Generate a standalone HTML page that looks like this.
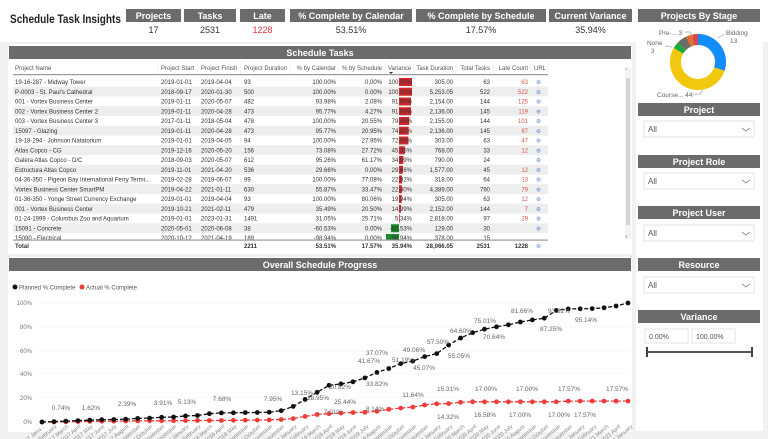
<!DOCTYPE html>
<html><head><meta charset="utf-8"><style>
html,body{margin:0;padding:0;background:#f1f1f1;}
svg{display:block;font-family:"Liberation Sans",sans-serif;}
</style></head><body>
<svg width="768" height="439" viewBox="0 0 768 439" xmlns="http://www.w3.org/2000/svg">
<rect width="768" height="439" fill="#f1f1f1"/>
<rect x="0" y="0" width="768" height="42" fill="#ffffff"/>
<text x="10" y="23" font-size="11.5" font-weight="bold" fill="#222" textLength="111" lengthAdjust="spacingAndGlyphs">Schedule Task Insights</text>
<g font-size="9" text-anchor="middle">
<rect x="126" y="9" width="55" height="13" fill="#6b6b6b"/><text x="153.5" y="19" fill="#fff" font-weight="bold">Projects</text><text x="153.5" y="33" fill="#333">17</text>
<rect x="184" y="9" width="52" height="13" fill="#6b6b6b"/><text x="210" y="19" fill="#fff" font-weight="bold">Tasks</text><text x="210" y="33" fill="#333">2531</text>
<rect x="240" y="9" width="45" height="13" fill="#6b6b6b"/><text x="262.5" y="19" fill="#fff" font-weight="bold">Late</text><text x="262.5" y="33" fill="#d9363e">1228</text>
<rect x="290" y="9" width="122" height="13" fill="#6b6b6b"/><text x="351" y="19" fill="#fff" font-weight="bold">% Complete by Calendar</text><text x="351" y="33" fill="#333">53.51%</text>
<rect x="416" y="9" width="130" height="13" fill="#6b6b6b"/><text x="481" y="19" fill="#fff" font-weight="bold">% Complete by Schedule</text><text x="481" y="33" fill="#333">17.57%</text>
<rect x="549" y="9" width="83" height="13" fill="#6b6b6b"/><text x="590.5" y="19" fill="#fff" font-weight="bold">Current Variance</text><text x="590.5" y="33" fill="#333">35.94%</text>
</g>

<rect x="636" y="8" width="127" height="423" fill="#fff"/>
<g font-size="9" font-weight="bold" fill="#fff" text-anchor="middle">
<rect x="638" y="9" width="122" height="13" fill="#6b6b6b"/><text x="699" y="19">Projects By Stage</text>
<rect x="638" y="103" width="122" height="13" fill="#6b6b6b"/><text x="699" y="113">Project</text>
<rect x="638" y="155" width="122" height="13" fill="#6b6b6b"/><text x="699" y="165">Project Role</text>
<rect x="638" y="206" width="122" height="13" fill="#6b6b6b"/><text x="699" y="216">Project User</text>
<rect x="638" y="258" width="122" height="13" fill="#6b6b6b"/><text x="699" y="268">Resource</text>
<rect x="638" y="310" width="122" height="13" fill="#6b6b6b"/><text x="699" y="320">Variance</text>
</g>
<g transform="translate(698,62)" fill="none" stroke-width="11">
<circle r="22.5" stroke="#f2c80f"/>
<path d="M0,-22.5 A22.5,22.5 0 0 1 21.4,7" stroke="#118dff"/>
<path d="M-19.5,-11.2 A22.5,22.5 0 0 1 -15.9,-15.9" stroke="#1aab40"/>
<path d="M-15.9,-15.9 A22.5,22.5 0 0 1 -9.5,-20.4" stroke="#6b6b6b"/>
<path d="M-9.5,-20.4 A22.5,22.5 0 0 1 -4.7,-22" stroke="#e66c37"/>
<path d="M-4.7,-22 A22.5,22.5 0 0 1 0,-22.5" stroke="#d64550"/>
</g>
<g font-size="6.5" fill="#666">
<text x="659" y="35">Pre-... 3</text>
<text x="647" y="45">None</text><text x="651" y="53">3</text>
<text x="726" y="35">Bidding</text><text x="730" y="43">13</text>
<text x="657" y="97">Course... 44</text>
</g>
<g stroke="#aaa" stroke-width="0.7" fill="none">
<path d="M685,32 L690,32 L693,36"/><path d="M665,46 L672,47"/><path d="M718,38 L724,34"/><path d="M692,94 L700,94 L703,90"/>
</g>
<g font-size="8" fill="#555">
<rect x="644" y="121" width="110" height="16" fill="#fff" stroke="#e3e3e3"/><text x="648" y="132">All</text>
<rect x="644" y="173" width="110" height="16" fill="#fff" stroke="#e3e3e3"/><text x="648" y="184">All</text>
<rect x="644" y="225" width="110" height="16" fill="#fff" stroke="#e3e3e3"/><text x="648" y="236">All</text>
<rect x="644" y="277" width="110" height="16" fill="#fff" stroke="#e3e3e3"/><text x="648" y="288">All</text>
<rect x="645" y="329" width="43" height="14" fill="#fff" stroke="#e3e3e3"/><text x="649" y="339" font-size="7">0.00%</text>
<rect x="692" y="329" width="43" height="14" fill="#fff" stroke="#e3e3e3"/><text x="696" y="339" font-size="7">100.00%</text>
</g>
<g stroke="#888" stroke-width="0.8" fill="none">
<path d="M742,128 l4,3 l4,-3"/><path d="M742,180 l4,3 l4,-3"/><path d="M742,232 l4,3 l4,-3"/><path d="M742,284 l4,3 l4,-3"/>
</g>
<rect x="647" y="351" width="105" height="2" fill="#555"/>
<rect x="646" y="347" width="2" height="10" fill="#444"/><rect x="751" y="347" width="2" height="10" fill="#444"/>

<rect x="8" y="44" width="624" height="210" fill="#fff"/>
<rect x="9" y="46" width="622" height="13" fill="#6b6b6b"/>
<text x="320" y="56" font-size="9" font-weight="bold" fill="#fff" text-anchor="middle">Schedule Tasks</text>
<g font-size="6" fill="#555">
<text x="15" y="70">Project Name</text><text x="161" y="70">Project Start</text><text x="201" y="70">Project Finish</text><text x="244" y="70">Project Duration</text>
<text x="336" y="70" text-anchor="end">% by Calendar</text><text x="382" y="70" text-anchor="end">% by Schedule</text><text x="388" y="70">Variance</text>
<text x="453" y="70" text-anchor="end">Task Duration</text><text x="490" y="70" text-anchor="end">Total Tasks</text><text x="528" y="70" text-anchor="end">Late Count</text><text x="534" y="70">URL</text>
</g>
<path d="M389,72 l2,2 l2,-2z" fill="#333"/>
<g stroke="#e2e2e2" stroke-width="0.6"><path d="M158,62V74M198,62V74M241,62V74M290,62V74M338,62V74M385,62V74M414,62V74M456,62V74M493,62V74M530,62V74M548,62V74"/></g>
<rect x="13" y="74" width="535" height="1.2" fill="#999"/>
<defs><clipPath id="tc"><rect x="10" y="75.5" width="540" height="164"/></clipPath></defs>
<g clip-path="url(#tc)">
<g fill="#eeeeee">
<rect x="13" y="86.75" width="535" height="9.75"/><rect x="13" y="106.25" width="535" height="9.75"/><rect x="13" y="125.75" width="535" height="9.75"/><rect x="13" y="145.25" width="535" height="9.75"/><rect x="13" y="164.75" width="535" height="9.75"/><rect x="13" y="184.25" width="535" height="9.75"/><rect x="13" y="203.75" width="535" height="9.75"/><rect x="13" y="223.25" width="535" height="9.75"/>
</g>
<g fill="#d0282e">
<rect x="399" y="78" width="13" height="8"/><rect x="399" y="87.75" width="13" height="8"/><rect x="399" y="97.5" width="12" height="8"/><rect x="399" y="107.25" width="12" height="8"/><rect x="399" y="117" width="10.3" height="8"/><rect x="399" y="126.75" width="9.7" height="8"/><rect x="399" y="136.5" width="9.4" height="8"/><rect x="399" y="146.25" width="5.9" height="8"/><rect x="399" y="156" width="4.4" height="8"/><rect x="399" y="165.75" width="3.9" height="8"/><rect x="399" y="175.5" width="3" height="8"/><rect x="399" y="185.25" width="2.9" height="8"/><rect x="399" y="195" width="2.6" height="8"/><rect x="399" y="204.75" width="1.9" height="8"/><rect x="399" y="214.5" width="0.8" height="8"/>
</g>
<g fill="#1a8a2e"><rect x="391" y="224.25" width="8" height="8"/><rect x="386" y="234" width="13" height="8"/></g>
<g font-size="6" fill="#333">
<text x="15" y="84">19-16-287 - Midway Tower</text><text x="15" y="93.75">P-0003 - St. Paul's Cathedral</text><text x="15" y="103.5">001 - Vortex Business Center</text><text x="15" y="113.25">002 - Vortex Business Center 2</text><text x="15" y="123">003 - Vortex Business Center 3</text><text x="15" y="132.75">15097 - Glazing</text><text x="15" y="142.5">19-18-294 - Johnson Natatorium</text><text x="15" y="152.25">Atlas Copco - CG</text><text x="15" y="162">Galera Atlas Copco - D/C</text><text x="15" y="171.75">Estructura Atlas Copco</text><text x="15" y="181.5">04-36-350 - Pigeon Bay International Ferry Termi...</text><text x="15" y="191.25">Vortex Business Center SmartPM</text><text x="15" y="201">01-36-350 - Yonge Street Currency Exchange</text><text x="15" y="210.75">001 - Vortex Business Center</text><text x="15" y="220.5">01-24-1999 - Columbus Zoo and Aquarium</text><text x="15" y="230.25">15091 - Concrete</text><text x="15" y="240">15090 - Electrical</text>
<text x="161" y="84">2019-01-01</text><text x="161" y="93.75">2018-09-17</text><text x="161" y="103.5">2019-01-11</text><text x="161" y="113.25">2019-01-11</text><text x="161" y="123">2017-01-11</text><text x="161" y="132.75">2019-01-11</text><text x="161" y="142.5">2019-01-01</text><text x="161" y="152.25">2019-12-16</text><text x="161" y="162">2018-09-03</text><text x="161" y="171.75">2019-11-01</text><text x="161" y="181.5">2019-02-28</text><text x="161" y="191.25">2019-04-22</text><text x="161" y="201">2019-01-01</text><text x="161" y="210.75">2019-10-21</text><text x="161" y="220.5">2019-01-01</text><text x="161" y="230.25">2020-05-01</text><text x="161" y="240">2020-10-12</text>
<text x="201" y="84">2019-04-04</text><text x="201" y="93.75">2020-01-30</text><text x="201" y="103.5">2020-05-07</text><text x="201" y="113.25">2020-04-28</text><text x="201" y="123">2018-05-04</text><text x="201" y="132.75">2020-04-28</text><text x="201" y="142.5">2019-04-05</text><text x="201" y="152.25">2020-05-20</text><text x="201" y="162">2020-05-07</text><text x="201" y="171.75">2021-04-20</text><text x="201" y="181.5">2019-06-07</text><text x="201" y="191.25">2021-01-11</text><text x="201" y="201">2019-04-04</text><text x="201" y="210.75">2021-02-11</text><text x="201" y="220.5">2023-01-31</text><text x="201" y="230.25">2020-06-08</text><text x="201" y="240">2021-04-19</text>
<text x="244" y="84">93</text><text x="244" y="93.75">500</text><text x="244" y="103.5">482</text><text x="244" y="113.25">473</text><text x="244" y="123">478</text><text x="244" y="132.75">473</text><text x="244" y="142.5">94</text><text x="244" y="152.25">156</text><text x="244" y="162">612</text><text x="244" y="171.75">536</text><text x="244" y="181.5">99</text><text x="244" y="191.25">630</text><text x="244" y="201">93</text><text x="244" y="210.75">479</text><text x="244" y="220.5">1491</text><text x="244" y="230.25">38</text><text x="244" y="240">189</text>
<g text-anchor="end">
<text x="336" y="84">100.00%</text><text x="336" y="93.75">100.00%</text><text x="336" y="103.5">93.98%</text><text x="336" y="113.25">95.77%</text><text x="336" y="123">100.00%</text><text x="336" y="132.75">95.77%</text><text x="336" y="142.5">100.00%</text><text x="336" y="152.25">73.08%</text><text x="336" y="162">95.26%</text><text x="336" y="171.75">29.66%</text><text x="336" y="181.5">100.00%</text><text x="336" y="191.25">55.87%</text><text x="336" y="201">100.00%</text><text x="336" y="210.75">35.49%</text><text x="336" y="220.5">31.05%</text><text x="336" y="230.25">-60.53%</text><text x="336" y="240">-98.94%</text>
<text x="382" y="84">0.00%</text><text x="382" y="93.75">0.00%</text><text x="382" y="103.5">2.08%</text><text x="382" y="113.25">4.27%</text><text x="382" y="123">20.55%</text><text x="382" y="132.75">20.95%</text><text x="382" y="142.5">27.95%</text><text x="382" y="152.25">27.72%</text><text x="382" y="162">61.17%</text><text x="382" y="171.75">0.00%</text><text x="382" y="181.5">77.08%</text><text x="382" y="191.25">33.47%</text><text x="382" y="201">80.06%</text><text x="382" y="210.75">20.50%</text><text x="382" y="220.5">25.71%</text><text x="382" y="230.25">0.00%</text><text x="382" y="240">0.00%</text>
<text x="412" y="84">100.00%</text><text x="412" y="93.75">100.00%</text><text x="412" y="103.5">91.90%</text><text x="412" y="113.25">91.50%</text><text x="412" y="123">79.45%</text><text x="412" y="132.75">74.82%</text><text x="412" y="142.5">72.05%</text><text x="412" y="152.25">45.36%</text><text x="412" y="162">34.09%</text><text x="412" y="171.75">29.66%</text><text x="412" y="181.5">22.92%</text><text x="412" y="191.25">22.40%</text><text x="412" y="201">19.94%</text><text x="412" y="210.75">14.99%</text><text x="412" y="220.5">5.34%</text><text x="412" y="230.25">-60.53%</text><text x="412" y="240">-98.94%</text>
<text x="453" y="84">305.00</text><text x="453" y="93.75">5,253.05</text><text x="453" y="103.5">2,154.00</text><text x="453" y="113.25">2,136.00</text><text x="453" y="123">2,155.00</text><text x="453" y="132.75">2,136.00</text><text x="453" y="142.5">303.00</text><text x="453" y="152.25">768.00</text><text x="453" y="162">790.00</text><text x="453" y="171.75">1,577.00</text><text x="453" y="181.5">318.00</text><text x="453" y="191.25">4,389.00</text><text x="453" y="201">305.00</text><text x="453" y="210.75">2,152.00</text><text x="453" y="220.5">2,818.00</text><text x="453" y="230.25">129.00</text><text x="453" y="240">378.00</text>
<text x="490" y="84">63</text><text x="490" y="93.75">522</text><text x="490" y="103.5">144</text><text x="490" y="113.25">145</text><text x="490" y="123">144</text><text x="490" y="132.75">145</text><text x="490" y="142.5">63</text><text x="490" y="152.25">33</text><text x="490" y="162">24</text><text x="490" y="171.75">45</text><text x="490" y="181.5">64</text><text x="490" y="191.25">790</text><text x="490" y="201">63</text><text x="490" y="210.75">144</text><text x="490" y="220.5">97</text><text x="490" y="230.25">30</text><text x="490" y="240">15</text>
<g fill="#d9534f"><text x="528" y="84">63</text><text x="528" y="93.75">522</text><text x="528" y="103.5">125</text><text x="528" y="113.25">119</text><text x="528" y="123">101</text><text x="528" y="132.75">87</text><text x="528" y="142.5">47</text><text x="528" y="152.25">12</text><text x="528" y="171.75">12</text><text x="528" y="181.5">13</text><text x="528" y="191.25">79</text><text x="528" y="201">12</text><text x="528" y="210.75">7</text><text x="528" y="220.5">29</text></g>
</g>
<g fill="#6b8fd6"><text x="536" y="84">⊕</text><text x="536" y="93.75">⊕</text><text x="536" y="103.5">⊕</text><text x="536" y="113.25">⊕</text><text x="536" y="123">⊕</text><text x="536" y="132.75">⊕</text><text x="536" y="142.5">⊕</text><text x="536" y="152.25">⊕</text><text x="536" y="162">⊕</text><text x="536" y="171.75">⊕</text><text x="536" y="181.5">⊕</text><text x="536" y="191.25">⊕</text><text x="536" y="201">⊕</text><text x="536" y="210.75">⊕</text><text x="536" y="220.5">⊕</text><text x="536" y="230.25">⊕</text></g>
</g>
</g>
<rect x="13" y="239.5" width="535" height="1.2" fill="#999"/>
<g font-size="6" font-weight="bold" fill="#333">
<text x="15" y="248">Total</text><text x="244" y="248">2211</text>
<g text-anchor="end"><text x="336" y="248">53.51%</text><text x="382" y="248">17.57%</text><text x="412" y="248">35.94%</text><text x="453" y="248">28,066.05</text><text x="490" y="248">2531</text><text x="528" y="248">1228</text></g>
</g>
<text x="536" y="248" font-size="6" fill="#6b8fd6">⊕</text>
<rect x="625" y="67" width="6" height="172" fill="#f3f3f3"/><rect x="626" y="78" width="4" height="147" fill="#d6d6d6"/>
<text x="625" y="72" font-size="5" fill="#999">^</text><text x="625" y="238" font-size="5" fill="#999">v</text>

<rect x="8" y="257" width="624" height="175" fill="#fff"/>
<rect x="9" y="258" width="622" height="13" fill="#6b6b6b"/>
<text x="320" y="268" font-size="9" font-weight="bold" fill="#fff" text-anchor="middle">Overall Schedule Progress</text>
<circle cx="15" cy="287" r="2.5" fill="#111"/><text x="19" y="289.5" font-size="6" fill="#555">Planned % Complete</text>
<circle cx="82" cy="287" r="2.5" fill="#f03b3b"/><text x="86" y="289.5" font-size="6" fill="#555">Actual % Complete</text>
<g stroke="#f0f0f0" stroke-width="0.6"><path d="M36,303H630M36,327H630M36,351H630M36,374H630M36,398H630"/></g>
<g font-size="6" fill="#777" text-anchor="end">
<text x="32" y="305">100%</text><text x="32" y="329">80%</text><text x="32" y="353">60%</text><text x="32" y="376">40%</text><text x="32" y="400">20%</text><text x="32" y="424">0%</text>
</g>
<polyline fill="none" stroke="#f03b3b" stroke-width="1.3" stroke-dasharray="4,2" points="42,422 54,422 65.9,421.8 77.9,421.6 89.8,421.4 101.8,421.3 113.8,421.2 125.7,421 137.7,420.9 149.6,420.8 161.6,420.8 173.6,420.7 185.5,420.6 197.5,420.5 209.4,420.5 221.4,420.5 233.4,420.3 245.3,420.2 257.3,420.1 269.2,419.9 281.2,419.5 293.2,418.6 305.1,416.4 317.1,414.5 329,413.7 341,413.1 353,412.5 364.9,412.3 376.9,411.3 388.8,409.3 400.8,408.1 412.8,407.1 424.7,405 436.7,403.8 448.6,403.6 460.6,402.3 472.6,401.8 484.5,401.8 496.5,401.8 508.4,401.8 520.4,401.8 532.4,401.8 544.3,401.8 556.3,401.8 568.2,401.1 580.2,401.1 592.2,401.1 604.1,401.1 616.1,401.1 628,401.1"/>
<g fill="#f03b3b">
<circle cx="42" cy="422" r="2.4"/><circle cx="54" cy="422" r="2.4"/><circle cx="65.9" cy="421.8" r="2.4"/><circle cx="77.9" cy="421.6" r="2.4"/><circle cx="89.8" cy="421.4" r="2.4"/><circle cx="101.8" cy="421.3" r="2.4"/><circle cx="113.8" cy="421.2" r="2.4"/><circle cx="125.7" cy="421" r="2.4"/><circle cx="137.7" cy="420.9" r="2.4"/><circle cx="149.6" cy="420.8" r="2.4"/><circle cx="161.6" cy="420.8" r="2.4"/><circle cx="173.6" cy="420.7" r="2.4"/><circle cx="185.5" cy="420.6" r="2.4"/><circle cx="197.5" cy="420.5" r="2.4"/><circle cx="209.4" cy="420.5" r="2.4"/><circle cx="221.4" cy="420.5" r="2.4"/><circle cx="233.4" cy="420.3" r="2.4"/><circle cx="245.3" cy="420.2" r="2.4"/><circle cx="257.3" cy="420.1" r="2.4"/><circle cx="269.2" cy="419.9" r="2.4"/><circle cx="281.2" cy="419.5" r="2.4"/><circle cx="293.2" cy="418.6" r="2.4"/><circle cx="305.1" cy="416.4" r="2.4"/><circle cx="317.1" cy="414.5" r="2.4"/><circle cx="329" cy="413.7" r="2.4"/><circle cx="341" cy="413.1" r="2.4"/><circle cx="353" cy="412.5" r="2.4"/><circle cx="364.9" cy="412.3" r="2.4"/><circle cx="376.9" cy="411.3" r="2.4"/><circle cx="388.8" cy="409.3" r="2.4"/><circle cx="400.8" cy="408.1" r="2.4"/><circle cx="412.8" cy="407.1" r="2.4"/><circle cx="424.7" cy="405" r="2.4"/><circle cx="436.7" cy="403.8" r="2.4"/><circle cx="448.6" cy="403.6" r="2.4"/><circle cx="460.6" cy="402.3" r="2.4"/><circle cx="472.6" cy="401.8" r="2.4"/><circle cx="484.5" cy="401.8" r="2.4"/><circle cx="496.5" cy="401.8" r="2.4"/><circle cx="508.4" cy="401.8" r="2.4"/><circle cx="520.4" cy="401.8" r="2.4"/><circle cx="532.4" cy="401.8" r="2.4"/><circle cx="544.3" cy="401.8" r="2.4"/><circle cx="556.3" cy="401.8" r="2.4"/><circle cx="568.2" cy="401.1" r="2.4"/><circle cx="580.2" cy="401.1" r="2.4"/><circle cx="592.2" cy="401.1" r="2.4"/><circle cx="604.1" cy="401.1" r="2.4"/><circle cx="616.1" cy="401.1" r="2.4"/><circle cx="628" cy="401.1" r="2.4"/>
</g>
<polyline fill="none" stroke="#111" stroke-width="1.3" stroke-dasharray="4,2" points="42,422 54,421.6 65.9,421.1 77.9,420.6 89.8,420.1 101.8,419.7 113.8,419.5 125.7,419.2 137.7,418.4 149.6,418.1 161.6,417.3 173.6,417 185.5,415.9 197.5,415.5 209.4,413.7 221.4,412.9 233.4,412.8 245.3,412.6 257.3,412.5 269.2,412.2 281.2,410.7 293.2,406.4 305.1,399.4 317.1,392.3 329,385.3 341,383.9 353,381.8 364.9,377.9 376.9,372.4 388.8,368.5 400.8,363.6 412.8,361.1 424.7,356.6 436.7,353.6 448.6,345.1 460.6,338 472.6,332.7 484.5,329.2 496.5,326.8 508.4,324.8 520.4,322 532.4,319.9 544.3,318.2 556.3,310.4 568.2,308.9 580.2,308.8 592.2,308.6 604.1,307.8 616.1,306 628,303"/>
<g fill="#111">
<circle cx="42" cy="422" r="2.4"/><circle cx="54" cy="421.6" r="2.4"/><circle cx="65.9" cy="421.1" r="2.4"/><circle cx="77.9" cy="420.6" r="2.4"/><circle cx="89.8" cy="420.1" r="2.4"/><circle cx="101.8" cy="419.7" r="2.4"/><circle cx="113.8" cy="419.5" r="2.4"/><circle cx="125.7" cy="419.2" r="2.4"/><circle cx="137.7" cy="418.4" r="2.4"/><circle cx="149.6" cy="418.1" r="2.4"/><circle cx="161.6" cy="417.3" r="2.4"/><circle cx="173.6" cy="417" r="2.4"/><circle cx="185.5" cy="415.9" r="2.4"/><circle cx="197.5" cy="415.5" r="2.4"/><circle cx="209.4" cy="413.7" r="2.4"/><circle cx="221.4" cy="412.9" r="2.4"/><circle cx="233.4" cy="412.8" r="2.4"/><circle cx="245.3" cy="412.6" r="2.4"/><circle cx="257.3" cy="412.5" r="2.4"/><circle cx="269.2" cy="412.2" r="2.4"/><circle cx="281.2" cy="410.7" r="2.4"/><circle cx="293.2" cy="406.4" r="2.4"/><circle cx="305.1" cy="399.4" r="2.4"/><circle cx="317.1" cy="392.3" r="2.4"/><circle cx="329" cy="385.3" r="2.4"/><circle cx="341" cy="383.9" r="2.4"/><circle cx="353" cy="381.8" r="2.4"/><circle cx="364.9" cy="377.9" r="2.4"/><circle cx="376.9" cy="372.4" r="2.4"/><circle cx="388.8" cy="368.5" r="2.4"/><circle cx="400.8" cy="363.6" r="2.4"/><circle cx="412.8" cy="361.1" r="2.4"/><circle cx="424.7" cy="356.6" r="2.4"/><circle cx="436.7" cy="353.6" r="2.4"/><circle cx="448.6" cy="345.1" r="2.4"/><circle cx="460.6" cy="338" r="2.4"/><circle cx="472.6" cy="332.7" r="2.4"/><circle cx="484.5" cy="329.2" r="2.4"/><circle cx="496.5" cy="326.8" r="2.4"/><circle cx="508.4" cy="324.8" r="2.4"/><circle cx="520.4" cy="322" r="2.4"/><circle cx="532.4" cy="319.9" r="2.4"/><circle cx="544.3" cy="318.2" r="2.4"/><circle cx="556.3" cy="310.4" r="2.4"/><circle cx="568.2" cy="308.9" r="2.4"/><circle cx="580.2" cy="308.8" r="2.4"/><circle cx="592.2" cy="308.6" r="2.4"/><circle cx="604.1" cy="307.8" r="2.4"/><circle cx="616.1" cy="306" r="2.4"/><circle cx="628" cy="303" r="2.4"/>
</g>
<g font-size="6.5" fill="#666" text-anchor="middle">
<text x="61" y="410">0.74%</text><text x="91" y="410">1.62%</text><text x="127" y="406">2.39%</text><text x="163" y="405">3.91%</text><text x="187" y="404">5.13%</text><text x="222" y="401">7.68%</text><text x="273" y="401">7.95%</text><text x="302" y="395">13.15%</text><text x="318" y="400">18.95%</text><text x="340" y="389">30.82%</text><text x="345" y="404">25.44%</text><text x="333" y="414">7.01%</text><text x="369" y="363">41.67%</text><text x="377" y="355">37.07%</text><text x="377" y="386">33.82%</text><text x="375" y="411">8.14%</text><text x="414" y="352">49.06%</text><text x="403" y="362">51.19%</text><text x="424" y="370">45.07%</text><text x="413" y="397">11.64%</text><text x="461" y="333">64.60%</text><text x="438" y="344">57.50%</text><text x="459" y="358">55.05%</text><text x="448" y="391">15.31%</text><text x="448" y="419">14.32%</text><text x="485" y="323">75.01%</text><text x="494" y="339">70.64%</text><text x="486" y="391">17.00%</text><text x="485" y="417">16.58%</text><text x="522" y="313">81.66%</text><text x="527" y="391">17.00%</text><text x="520" y="417">17.00%</text><text x="559" y="313">93.82%</text><text x="551" y="331">87.25%</text><text x="569" y="391">17.57%</text><text x="559" y="417">17.00%</text><text x="586" y="322">95.14%</text><text x="585" y="417">17.57%</text><text x="617" y="391">17.57%</text>
</g>
<g font-size="5.5" fill="#888" text-anchor="end">
<text transform="translate(45,427) rotate(-40)">2017 Janu...</text><text transform="translate(57,427) rotate(-40)">2017 February</text><text transform="translate(69,427) rotate(-40)">2017 March</text><text transform="translate(81,427) rotate(-40)">2017 April</text><text transform="translate(93,427) rotate(-40)">2017 May</text><text transform="translate(105,427) rotate(-40)">2017 June</text><text transform="translate(117,427) rotate(-40)">2017 July</text><text transform="translate(129,427) rotate(-40)">2017 August</text><text transform="translate(141,427) rotate(-40)">2017 September</text><text transform="translate(153,427) rotate(-40)">2017 October</text><text transform="translate(165,427) rotate(-40)">2017 November</text><text transform="translate(177,427) rotate(-40)">2017 December</text><text transform="translate(189,427) rotate(-40)">2018 January</text><text transform="translate(201,427) rotate(-40)">2018 February</text><text transform="translate(213,427) rotate(-40)">2018 March</text><text transform="translate(225,427) rotate(-40)">2018 April</text><text transform="translate(237,427) rotate(-40)">2018 May</text><text transform="translate(249,427) rotate(-40)">2018 September</text><text transform="translate(261,427) rotate(-40)">2018 October</text><text transform="translate(273,427) rotate(-40)">2018 November</text><text transform="translate(285,427) rotate(-40)">2018 December</text><text transform="translate(297,427) rotate(-40)">2019 January</text><text transform="translate(309,427) rotate(-40)">2019 February</text><text transform="translate(321,427) rotate(-40)">2019 March</text><text transform="translate(333,427) rotate(-40)">2019 April</text><text transform="translate(345,427) rotate(-40)">2019 May</text><text transform="translate(357,427) rotate(-40)">2019 June</text><text transform="translate(369,427) rotate(-40)">2019 July</text><text transform="translate(381,427) rotate(-40)">2019 August</text><text transform="translate(393,427) rotate(-40)">2019 September</text><text transform="translate(405,427) rotate(-40)">2019 October</text><text transform="translate(417,427) rotate(-40)">2019 November</text><text transform="translate(429,427) rotate(-40)">2019 December</text><text transform="translate(441,427) rotate(-40)">2020 January</text><text transform="translate(453,427) rotate(-40)">2020 February</text><text transform="translate(465,427) rotate(-40)">2020 March</text><text transform="translate(477,427) rotate(-40)">2020 April</text><text transform="translate(489,427) rotate(-40)">2020 May</text><text transform="translate(501,427) rotate(-40)">2020 June</text><text transform="translate(513,427) rotate(-40)">2020 July</text><text transform="translate(525,427) rotate(-40)">2020 August</text><text transform="translate(537,427) rotate(-40)">2020 September</text><text transform="translate(549,427) rotate(-40)">2020 October</text><text transform="translate(561,427) rotate(-40)">2020 November</text><text transform="translate(573,427) rotate(-40)">2020 December</text><text transform="translate(585,427) rotate(-40)">2021 January</text><text transform="translate(597,427) rotate(-40)">2021 February</text><text transform="translate(609,427) rotate(-40)">2021 March</text><text transform="translate(621,427) rotate(-40)">2021 April</text><text transform="translate(633,427) rotate(-40)">2023 January</text>
</g>
</svg>
</body></html>
